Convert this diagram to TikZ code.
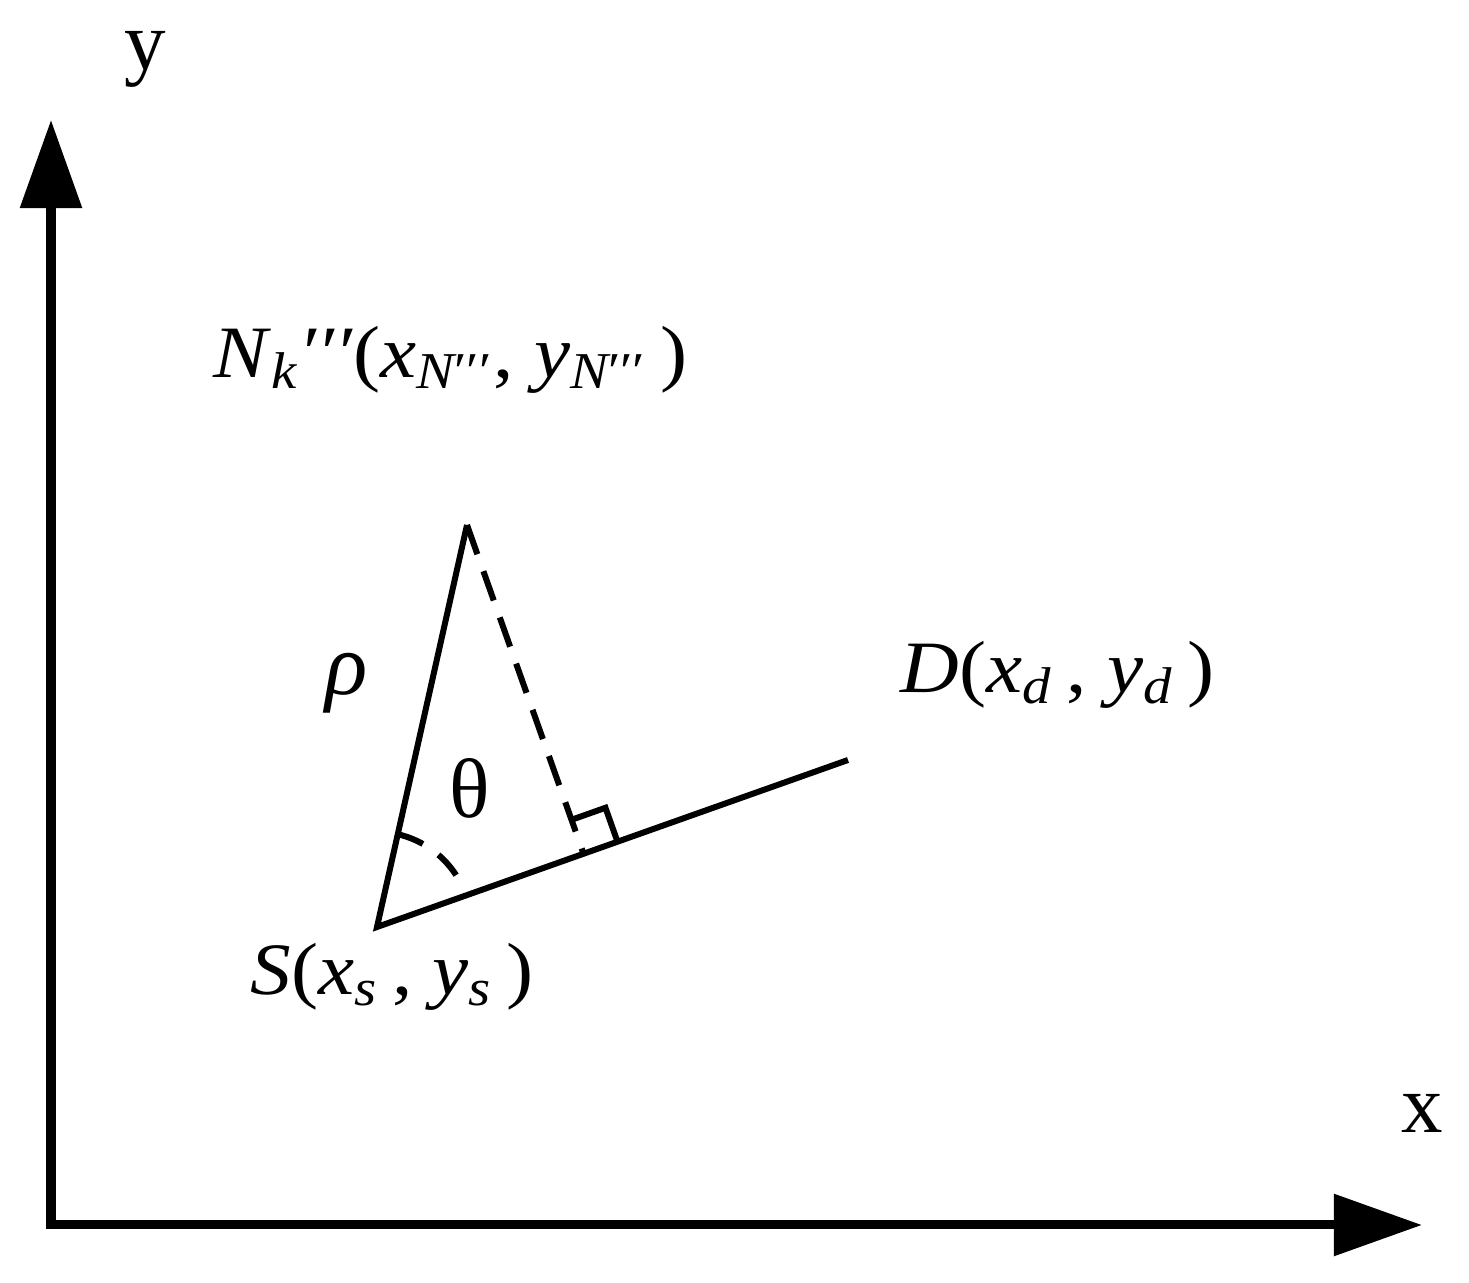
\documentclass[tikz,border=0pt]{standalone}
\usepackage{amsmath}
\usepackage{fontspec}
\setmainfont{Liberation Serif}
\usetikzlibrary{arrows.meta,calc}
\newcommand{\prm}{\symbol{"2032}}
\newcommand{\wide}[1]{\scalebox{1.1}[1]{#1}}
\tikzset{
  axis/.style={line width=0.09cm, line join=miter,
    {Triangle[length=0.88cm,width=0.6cm]}-{Triangle[length=0.88cm,width=0.6cm]}},
  edge/.style={line width=0.06cm},
  lbl/.style={inner sep=0pt, anchor=base west, font=\fontsize{21}{25}\selectfont},
  axlbl/.style={inner sep=0pt, anchor=base, font=\fontsize{23.6}{28}\selectfont}
}
\begin{document}
\begin{tikzpicture}[x=0.01cm,y=-0.01cm]
\useasboundingbox (0,0) rectangle (1469,1283);

\coordinate (O) at (51,1225);
\coordinate (ytip) at (51,120);
\coordinate (xtip) at (1422,1225);
\coordinate (S) at (377,927);
\coordinate (N) at (467,525);
\coordinate (D) at (848,760);
\coordinate (F) at ($(S)!(N)!(D)$);
\coordinate (A) at ($(F)!0.36cm!(N)$);
\coordinate (C) at ($(F)!0.36cm!(D)$);
\coordinate (B) at ($(A)+(C)-(F)$);
\coordinate (arcstart) at ($(S)!0.95cm!(N)$);

\draw[axis] (ytip) -- (O) -- (xtip);
\node[axlbl] (ylab) at (145,70) {y};
\node[axlbl] (xlab) at (1422,1133) {x};

\draw[edge, line join=miter] (N) -- (S) -- (D);
\draw[edge, dash pattern=on 0.31cm off 0.18cm] (N) -- (F);
\draw[edge] (A) -- (B) -- (C);
\draw[edge, dash pattern=on 0.27cm off 0.19cm] (arcstart) arc[start angle=-77, end angle=-31, radius=95];

\node[lbl] (Nlab) at (213,378) {\wide{\textit{N}$_{\textit{k}}$\textit{\prm\prm\prm}(\textit{x}$_{\textit{N}\textup{\prm\prm\prm}}$, \textit{y}$_{\textit{N}\textup{\prm\prm\prm}}$\,)}};
\node[lbl] (Dlab) at (900,693) {\wide{\textit{D}(\textit{x}$_{\textit{d}}$\,, \textit{y}$_{\textit{d}}$\,)}};
\node[lbl] (Slab) at (250,995) {\wide{\textit{S}(\textit{x}$_{\textit{s}}$\,, \textit{y}$_{\textit{s}}$\,)}};
\node[inner sep=0pt, font=\fontsize{25}{29}\selectfont] (rho) at (347,683) {\textit{ρ}};
\node[inner sep=0pt, font=\fontsize{24}{28}\selectfont] (theta) at (470,788) {θ};
\end{tikzpicture}
\end{document}
